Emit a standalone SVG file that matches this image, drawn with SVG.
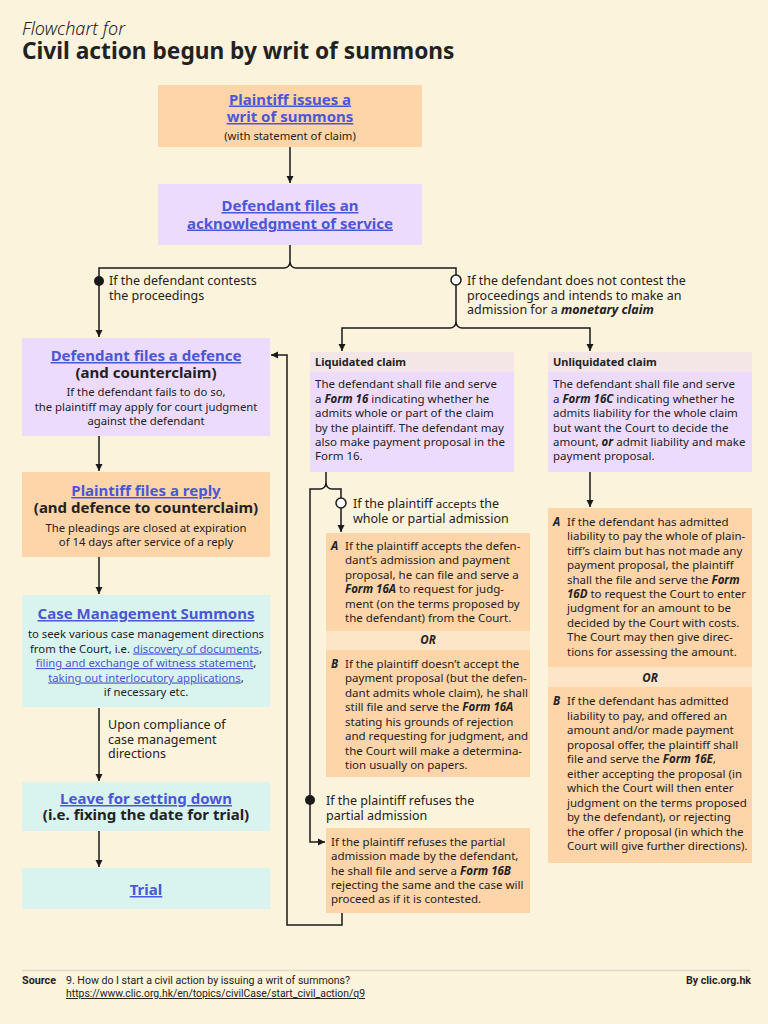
<svg xmlns="http://www.w3.org/2000/svg" width="768" height="1024" viewBox="0 0 768 1024">
<defs>
<marker id="arr" viewBox="0 0 10 10" refX="10" refY="5" markerWidth="7" markerHeight="8" markerUnits="userSpaceOnUse" orient="auto"><path d="M0,0 L10,5 L0,10 z" fill="#1a1a1a"/></marker>
<style>
text{font-family:"Noto Sans","Open Sans",sans-serif;fill:#222}
.peach{fill:#fdd5a9}
.lav{fill:#eddbfd}
.mint{fill:#d9f3ef}
.hdr{fill:#f4e5e7}
.orb{fill:#fde6c8}
.ttl{font-size:15px;font-weight:bold;text-anchor:middle}
.lk{fill:#4a57d6;text-decoration:underline}
.sub{font-size:11.3px;text-anchor:middle}
.body{font-size:11.5px}
.lbl{font-size:12.5px}
.bi{font-weight:bold;font-style:italic}
.conn{stroke:#1a1a1a;stroke-width:1.5;fill:none}
.ft{font-family:"Roboto","Liberation Sans",sans-serif;font-size:10px}
</style>
</defs>
<rect width="768" height="1024" fill="#fcf3dc"/>
<g id="title">
<text x="22" y="35" font-size="18" font-style="italic" font-weight="300">Flowchart for</text>
<text x="22" y="59" font-size="22.7" font-weight="bold" fill="#111">Civil action begun by writ of summons</text>
</g>
<g id="connectors">
<path class="conn" d="M290,147 V183" marker-end="url(#arr)"/>
<path class="conn" d="M290,245 V262 A6,6 0 0 1 284,268 H99 V337" marker-end="url(#arr)"/>
<path class="conn" d="M290,262 A6,6 0 0 0 296,268 H456 V322"/>
<path class="conn" d="M456,322 A6,6 0 0 1 450,328 H342 V351" marker-end="url(#arr)"/>
<path class="conn" d="M456,322 A6,6 0 0 0 462,328 H590 V351" marker-end="url(#arr)"/>
<path class="conn" d="M326,472 V483 A6,6 0 0 1 320,489 H310 V842 H325" marker-end="url(#arr)"/>
<path class="conn" d="M326,483 A6,6 0 0 0 332,489 H341 V532" marker-end="url(#arr)"/>
<path class="conn" d="M590,472 V507" marker-end="url(#arr)"/>
<path class="conn" d="M342,913 V925 H287 V355 H271" marker-end="url(#arr)"/>
<path class="conn" d="M99,436 V471" marker-end="url(#arr)"/>
<path class="conn" d="M99,557 V594" marker-end="url(#arr)"/>
<path class="conn" d="M99,708 V781" marker-end="url(#arr)"/>
<path class="conn" d="M99,831 V867" marker-end="url(#arr)"/>
<circle cx="99" cy="281" r="5" fill="#1a1a1a"/>
<circle cx="456" cy="280" r="5" fill="#fff" stroke="#1a1a1a" stroke-width="1.5"/>
<circle cx="341" cy="503" r="5" fill="#fff" stroke="#1a1a1a" stroke-width="1.5"/>
<circle cx="310" cy="800" r="5" fill="#1a1a1a"/>
<text class="lbl" x="109" y="285">If the defendant contests</text>
<text class="lbl" x="109" y="300">the proceedings</text>
<text class="lbl" x="467" y="285">If the defendant does not contest the</text>
<text class="lbl" x="467" y="299.5">proceedings and intends to make an</text>
<text class="lbl" x="467" y="314">admission for a <tspan class="bi">monetary claim</tspan></text>
<text class="lbl" x="108" y="729">Upon compliance of</text>
<text class="lbl" x="108" y="744">case management</text>
<text class="lbl" x="108" y="758">directions</text>
<text class="lbl" x="353" y="508">If the plaintiff <tspan font-size="11.5">accepts</tspan> the</text>
<text class="lbl" x="353" y="522.5">whole or partial admission</text>
<text class="lbl" x="326" y="805">If the plaintiff refuses the</text>
<text class="lbl" x="326" y="819.5">partial admission</text>
</g>
<g id="n-writ">
<rect class="peach" x="158" y="85" width="264" height="62"/>
<text class="ttl" x="290" y="104.5"><tspan class="lk">Plaintiff issues a </tspan></text>
<text class="ttl" x="290" y="122"><tspan class="lk">writ of summons</tspan></text>
<text class="sub" x="290" y="139.5">(with statement of claim)</text>
</g>
<g id="n-ack">
<rect class="lav" x="158" y="184" width="264" height="61"/>
<text class="ttl" x="290" y="211"><tspan class="lk">Defendant files an</tspan></text>
<text class="ttl" x="290" y="228.5"><tspan class="lk">acknowledgment of service</tspan></text>
</g>
<g id="n-defence">
<rect class="lav" x="22" y="338" width="248" height="98"/>
<text class="ttl" x="146" y="361"><tspan class="lk">Defendant files a defence</tspan></text>
<text class="ttl" x="146" y="378">(and counterclaim)</text>
<text class="sub" x="146" y="396">If the defendant fails to do so,</text>
<text class="sub" x="146" y="411">the plaintiff may apply for court judgment</text>
<text class="sub" x="146" y="425">against the defendant</text>
</g>
<g id="n-reply">
<rect class="peach" x="22" y="472" width="248" height="85"/>
<text class="ttl" x="146" y="496"><tspan class="lk">Plaintiff files a reply</tspan></text>
<text class="ttl" x="146" y="513">(and defence to counterclaim)</text>
<text class="sub" x="146" y="531.5">The pleadings are closed at expiration</text>
<text class="sub" x="146" y="546">of 14 days after service of a reply</text>
</g>
<g id="n-cms">
<rect class="mint" x="22" y="595" width="248" height="112"/>
<text class="ttl" x="146" y="619"><tspan class="lk">Case Management Summons</tspan></text>
<text class="sub" x="146" y="638">to seek various case management directions</text>
<text class="sub" x="146" y="652.5">from the Court, i.e. <tspan class="lk">discovery of documents</tspan>,</text>
<text class="sub" x="146" y="667"><tspan class="lk">filing and exchange of witness statement</tspan>,</text>
<text class="sub" x="146" y="681.5"><tspan class="lk">taking out interlocutory applications</tspan>,</text>
<text class="sub" x="146" y="696">if necessary etc.</text>
</g>
<g id="n-leave">
<rect class="mint" x="22" y="782" width="248" height="49"/>
<text class="ttl" x="146" y="804"><tspan class="lk">Leave for setting down</tspan></text>
<text class="ttl" x="146" y="820">(i.e. fixing the date for trial)</text>
</g>
<g id="n-trial">
<rect class="mint" x="22" y="868" width="248" height="41"/>
<text class="ttl" x="146" y="895"><tspan class="lk">Trial</tspan></text>
</g>
<g id="n-liquidated">
<rect class="hdr" x="310" y="352" width="204" height="20"/>
<rect class="lav" x="310" y="372" width="204" height="100"/>
<text x="315" y="366" font-size="11" font-weight="bold">Liquidated claim</text>
<text class="body" x="315" y="388">The defendant shall file and serve</text>
<text class="body" x="315" y="402.5">a <tspan class="bi">Form 16</tspan> indicating whether he</text>
<text class="body" x="315" y="417">admits whole or part of the claim</text>
<text class="body" x="315" y="431.5">by the plaintiff. The defendant may</text>
<text class="body" x="315" y="446">also make payment proposal in the</text>
<text class="body" x="315" y="460">Form 16.</text>
</g>
<g id="n-accept">
<rect class="peach" x="326" y="533" width="204" height="98"/>
<rect class="orb" x="326" y="631" width="204" height="19"/>
<rect class="peach" x="326" y="650" width="204" height="127"/>
<text class="body bi" x="331" y="549.5">A</text>
<text class="body" x="345" y="549.5">If the plaintiff accepts the defen-</text>
<text class="body" x="345" y="564">dant’s admission and payment</text>
<text class="body" x="345" y="578.5">proposal, he can file and serve a</text>
<text class="body" x="345" y="593"><tspan class="bi">Form 16A</tspan> to request for judg-</text>
<text class="body" x="345" y="607.5">ment (on the terms proposed by</text>
<text class="body" x="345" y="622">the defendant) from the Court.</text>
<text class="body bi" x="428" y="644" text-anchor="middle" font-size="11">OR</text>
<text class="body bi" x="331" y="667.5">B</text>
<text class="body" x="345" y="667.5">If the plaintiff doesn’t accept the</text>
<text class="body" x="345" y="682">payment proposal (but the defen-</text>
<text class="body" x="345" y="696.5">dant admits whole claim), he shall</text>
<text class="body" x="345" y="711">still file and serve the <tspan class="bi">Form 16A</tspan></text>
<text class="body" x="345" y="725.5">stating his grounds of rejection</text>
<text class="body" x="345" y="740">and requesting for judgment, and</text>
<text class="body" x="345" y="754.5">the Court will make a determina-</text>
<text class="body" x="345" y="769">tion usually on papers.</text>
</g>
<g id="n-refuse">
<rect class="peach" x="326" y="828" width="204" height="85"/>
<text class="body" x="331" y="845.5">If the plaintiff refuses the partial</text>
<text class="body" x="331" y="860">admission made by the defendant,</text>
<text class="body" x="331" y="874.5">he shall file and serve a <tspan class="bi">Form 16B</tspan></text>
<text class="body" x="331" y="888.5">rejecting the same and the case will</text>
<text class="body" x="331" y="903">proceed as if it is contested.</text>
</g>
<g id="n-unliquidated">
<rect class="hdr" x="548" y="352" width="204" height="20"/>
<rect class="lav" x="548" y="372" width="204" height="100"/>
<text x="553" y="366" font-size="11" font-weight="bold">Unliquidated claim</text>
<text class="body" x="553" y="388">The defendant shall file and serve</text>
<text class="body" x="553" y="402.5">a <tspan class="bi">Form 16C</tspan> indicating whether he</text>
<text class="body" x="553" y="417">admits liability for the whole claim</text>
<text class="body" x="553" y="431.5">but want the Court to decide the</text>
<text class="body" x="553" y="446">amount, <tspan class="bi">or</tspan> admit liability and make</text>
<text class="body" x="553" y="460">payment proposal.</text>
</g>
<g id="n-options">
<rect class="peach" x="548" y="508" width="204" height="159"/>
<rect class="orb" x="548" y="667" width="204" height="20"/>
<rect class="peach" x="548" y="687" width="204" height="176"/>
<text class="body bi" x="553" y="525.5">A</text>
<text class="body" x="567" y="525.5">If the defendant has admitted</text>
<text class="body" x="567" y="540">liability to pay the whole of plain-</text>
<text class="body" x="567" y="554.5">tiff’s claim but has not made any</text>
<text class="body" x="567" y="569">payment proposal, the plaintiff</text>
<text class="body" x="567" y="583.5">shall the file and serve the <tspan class="bi">Form</tspan></text>
<text class="body" x="567" y="598"><tspan class="bi">16D</tspan> to request the Court to enter</text>
<text class="body" x="567" y="612">judgment for an amount to be</text>
<text class="body" x="567" y="626.5">decided by the Court with costs.</text>
<text class="body" x="567" y="641">The Court may then give direc-</text>
<text class="body" x="567" y="655.5">tions for assessing the amount.</text>
<text class="body bi" x="650" y="681.5" text-anchor="middle" font-size="11">OR</text>
<text class="body bi" x="553" y="705">B</text>
<text class="body" x="567" y="705">If the defendant has admitted</text>
<text class="body" x="567" y="719.5">liability to pay, and offered an</text>
<text class="body" x="567" y="734">amount and/or made payment</text>
<text class="body" x="567" y="748.5">proposal offer, the plaintiff shall</text>
<text class="body" x="567" y="763">file and serve the <tspan class="bi">Form 16E</tspan>,</text>
<text class="body" x="567" y="777.5">either accepting the proposal (in</text>
<text class="body" x="567" y="792">which the Court will then enter</text>
<text class="body" x="567" y="806.5">judgment on the terms proposed</text>
<text class="body" x="567" y="821">by the defendant), or rejecting</text>
<text class="body" x="567" y="835.5">the offer / proposal (in which the</text>
<text class="body" x="567" y="850">Court will give further directions).</text>
</g>
<g id="footer">
<line x1="22" y1="970.5" x2="751" y2="970.5" stroke="#e3dacb" stroke-width="1.5"/>
<text class="ft" x="22" y="984" font-weight="bold" textLength="34" lengthAdjust="spacingAndGlyphs">Source</text>
<text class="ft" x="66" y="984" textLength="284" lengthAdjust="spacingAndGlyphs">9. How do I start a civil action by issuing a writ of summons?</text>
<text class="ft" x="66" y="997" fill="#4a57d6" text-decoration="underline" textLength="299" lengthAdjust="spacingAndGlyphs">https://www.clic.org.hk/en/topics/civilCase/start_civil_action/q9</text>
<text class="ft" x="686" y="984" font-weight="bold" textLength="65" lengthAdjust="spacingAndGlyphs">By clic.org.hk</text>
</g>
</svg>
